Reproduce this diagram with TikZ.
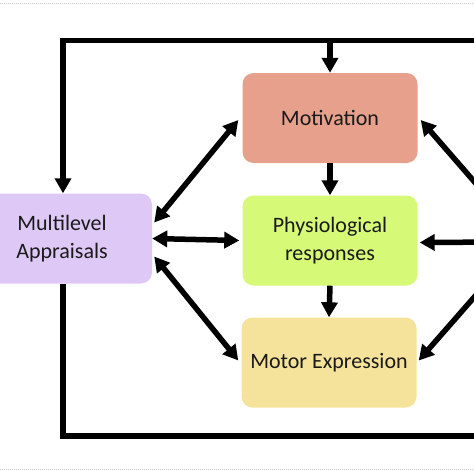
\documentclass[tikz,border=0pt]{standalone}
\usepackage{fontspec}
\setmainfont{Carlito}
\usetikzlibrary{arrows.meta,calc}
\definecolor{motc}{HTML}{E6A08C}
\definecolor{phyc}{HTML}{D6F978}
\definecolor{motorc}{HTML}{F5E39B}
\definecolor{multc}{HTML}{DEC8F6}
\definecolor{txtc}{HTML}{1A1A1A}
\tikzset{
  box/.style={rectangle, rounded corners=11pt, draw=none, minimum width=175pt, minimum height=90pt, align=center, text=txtc, font=\fontsize{22}{27.5}\selectfont},
  conn/.style={line width=5.5pt, black},
  arr/.style={conn, -{Triangle[width=16pt,length=15pt]}},
  darr/.style={conn, {Triangle[width=16pt,length=15pt]}-{Triangle[width=16pt,length=15pt]}},
  sep/.style={line width=1pt, gray!45, densely dotted}
}
\begin{document}
\begin{tikzpicture}[x=1pt,y=-1pt]
\useasboundingbox (0,0) rectangle (474,474);
\clip (0,0) rectangle (474,474);
\fill[white] (0,0) rectangle (474,474);
\coordinate (sepL1) at (0,3);
\coordinate (sepR1) at (474,3);
\coordinate (sepL2) at (0,469);
\coordinate (sepR2) at (474,469);
\draw[sep] (sepL1) -- (sepR1);
\draw[sep] (sepL2) -- (sepR2);
\node[box, fill=motc] (mot) at (330,118) {Motivation};
\node[box, fill=phyc] (phy) at (330,240.5) {Physiological\\responses};
\node[box, fill=motorc] (motor) at (329,362.5) {Motor Expression};
\node[box, fill=multc, minimum width=180pt] (multi) at (62,238.5) {Multilevel\\Appraisals};
% frame
\coordinate (topR) at (520,40.5);
\coordinate (topL) at (63,40.5);
\coordinate (topJ) at (330,40.5);
\coordinate (botR) at (520,436);
\coordinate (botL) at (63,436);
\draw[arr] (topR) -- (topL) -- (topL |- multi.north);
\draw[arr] (topJ) -- (mot.north);
\draw[conn] (topL |- multi.south) -- (botL) -- (botR);
% vertical chain
\draw[arr] (mot.south) -- (phy.north);
\draw[arr] (phy.south) -- (motor.north);
% left connectors
\draw[darr] (multi.east) -- ($(phy.west)+(-3,0)$);
\draw[darr] ($(multi.east)+(2,-16)$) -- ($(mot.west)+(-4,2)$);
\draw[darr] ($(multi.east)+(2,18)$) -- ($(motor.west)+(-3,-2)$);
% right connectors
\coordinate (rMot) at (505,217);
\coordinate (rPhy) at (505,242);
\coordinate (rMotor) at (505,262);
\draw[arr] (rMot) -- ($(mot.east)+(3,2)$);
\draw[arr] (rPhy) -- ($(phy.east)+(2,2)$);
\draw[arr] (rMotor) -- ($(motor.east)+(2,-2)$);
\end{tikzpicture}
\end{document}
